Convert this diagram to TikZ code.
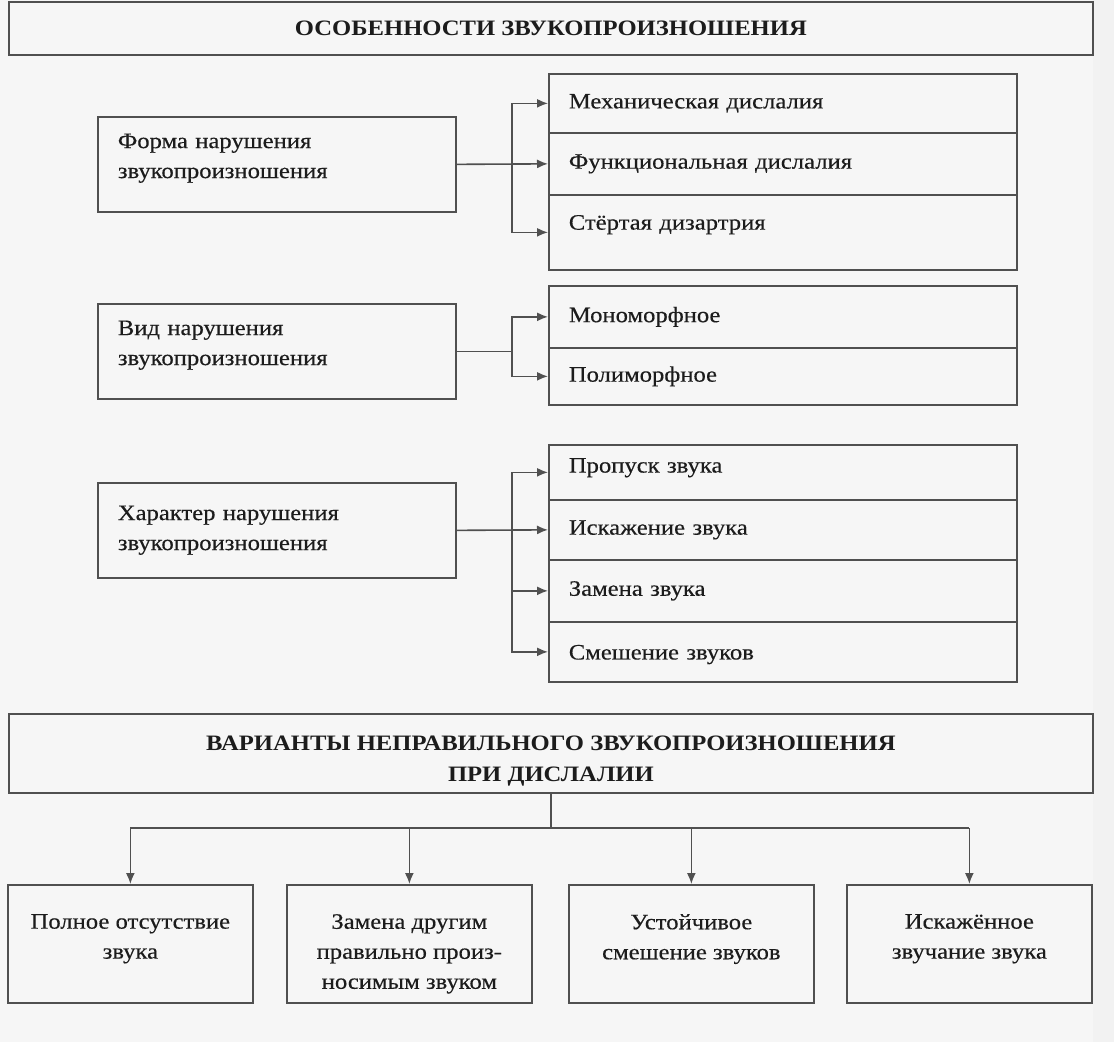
\documentclass[tikz,border=0pt]{standalone}
\usepackage{fontspec}
\setmainfont{Liberation Serif}[FakeStretch=1.12, UprightFeatures={FakeBold=0.35}]
\usetikzlibrary{arrows.meta}
\definecolor{bg}{HTML}{F6F6F6}
\definecolor{bgr}{HTML}{F2F2F2}
\definecolor{ln}{HTML}{505050}
\definecolor{tx}{HTML}{1C1C1C}
\begin{document}
\begin{tikzpicture}[x=1pt,y=-1pt,
  font=\fontsize{22}{30}\selectfont,
  box/.style={draw=ln, line width=1.7pt, inner sep=0pt, text=tx},
  lbox/.style={box, anchor=north west, minimum width=358pt, minimum height=95pt, text width=318pt, align=left, text depth=47pt},
  cell/.style={box, anchor=north west, minimum width=468pt, text width=428pt, align=left},
  bbox/.style={box, anchor=north west, minimum width=245pt, minimum height=118pt},
  btext/.style={text=tx, inner sep=0pt, align=center, anchor=north},
  head/.style={box, anchor=north west, minimum width=1084pt, align=center, font=\fontsize{22}{31}\selectfont\bfseries},
  conn/.style={draw=ln, line width=1.6pt},
  arr/.style={conn, -{Latex[length=11pt,width=9pt]}}
]
\fill[bg] (0,0) rectangle (1114,1042);
\fill[bgr] (1093,0) rectangle (1114,1042);
\useasboundingbox (0,0) rectangle (1114,1042);

% top header
\node[head, minimum height=53pt] (H1) at (8,1) {ОСОБЕННОСТИ ЗВУКОПРОИЗНОШЕНИЯ};

\coordinate (X) at (512,0);

% group 1
\node[lbox] (L1) at (97,116) {Форма нарушения\\звукопроизношения};
\node[cell, minimum height=59pt] (C11) at (548,73) {Механическая дислалия};
\node[cell, minimum height=62pt] (C12) at (548,132) {Функциональная дислалия};
\node[cell, minimum height=75pt, text depth=20pt] (C13) at (548,194) {Стёртая дизартрия};
\draw[arr] (L1.east) -- (C12.west);
\draw[arr] (L1.east -| X) |- (C11.west);
\draw[arr] (L1.east -| X) |- (C13.west);

% group 2
\node[lbox] (L2) at (97,303) {Вид нарушения\\звукопроизношения};
\node[cell, minimum height=62pt] (C21) at (548,285) {Мономорфное};
\node[cell, minimum height=57pt] (C22) at (548,347) {Полиморфное};
\draw[conn] (L2.east) -- (L2.east -| X);
\draw[arr] (L2.east -| X) |- (C21.west);
\draw[arr] (L2.east -| X) |- (C22.west);

% group 3
\node[lbox, text depth=35pt] (L3) at (97,482) {Характер нарушения\\звукопроизношения};
\node[cell, minimum height=55pt, text depth=14pt] (C31) at (548,444) {Пропуск звука};
\node[cell, minimum height=60pt] (C32) at (548,499) {Искажение звука};
\node[cell, minimum height=62pt] (C33) at (548,559) {Замена звука};
\node[cell, minimum height=60pt, text height=20pt] (C34) at (548,621) {Смешение звуков};
\draw[arr] (L3.east) -- (C32.west);
\draw[arr] (L3.east -| X) |- (C31.west);
\draw[arr] (L3.east -| X) |- (C33.west);
\draw[arr] (L3.east -| X) |- (C34.west);

% bottom header
\node[head, minimum height=79pt, text height=60pt] (H2) at (8,713) {ВАРИАНТЫ НЕПРАВИЛЬНОГО ЗВУКОПРОИЗНОШЕНИЯ\\ПРИ ДИСЛАЛИИ};

% bottom boxes
\node[bbox] (B1) at (7,884) {};
\node[bbox] (B2) at (286,884) {};
\node[bbox] (B3) at (568,884) {};
\node[bbox] (B4) at (846,884) {};
\node[btext] (T1) at ([yshift=-30pt]B1.north) {Полное отсутствие\\звука};
\node[btext] (T2) at ([yshift=-30pt]B2.north) {Замена другим\\правильно произ-\\носимым звуком};
\node[btext] (T3) at ([yshift=-30pt]B3.north) {Устойчивое\\смешение звуков};
\node[btext] (T4) at ([yshift=-30pt]B4.north) {Искажённое\\звучание звука};

\coordinate (J) at (550,828);
\draw[conn] (H2.south) -- (H2.south |- J);
\draw[conn] (B1.north |- J) -- (B4.north |- J);
\draw[arr] (B1.north |- J) -- (B1.north);
\draw[arr] (B2.north |- J) -- (B2.north);
\draw[arr] (B3.north |- J) -- (B3.north);
\draw[arr] (B4.north |- J) -- (B4.north);
\end{tikzpicture}
\end{document}
